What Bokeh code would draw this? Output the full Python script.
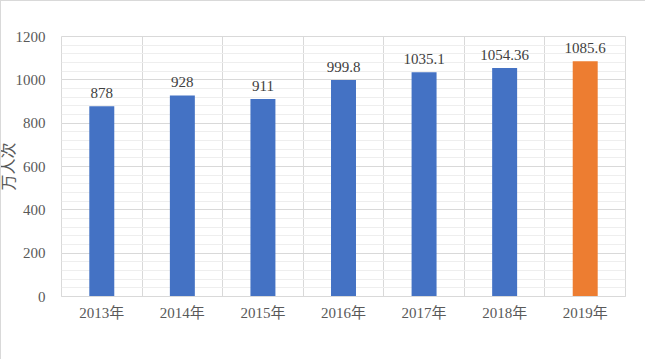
from bokeh.plotting import figure
from bokeh.models import ColumnDataSource, FixedTicker, SingleIntervalTicker, Range1d, LabelSet, Title
from bokeh.embed import file_html
from bokeh.resources import INLINE

years = ["2013年", "2014年", "2015年", "2016年", "2017年", "2018年", "2019年"]
values = [878, 928, 911, 999.8, 1035.1, 1054.36, 1085.6]
labels = ["878", "928", "911", "999.8", "1035.1", "1054.36", "1085.6"]
colors = ["#4472C4"] * 6 + ["#ED7D31"]
y_title = "万人次"

xs = [i + 0.5 for i in range(len(years))]
src = ColumnDataSource(dict(x=xs, top=values, lab=labels, color=colors))

FONT = "'Liberation Serif', 'Times New Roman', 'Noto Sans CJK SC'"

p = figure(width=645, height=359, output_backend="svg", toolbar_location=None,
           x_range=Range1d(0, len(years)), y_range=Range1d(0, 1200),
           min_border_left=60, min_border_right=21, min_border_top=35, min_border_bottom=64)
p.outline_line_color = "#d9d9d9"
p.styles = {"border-top": "1px solid #d9d9d9", "border-left": "1px solid #d9d9d9"}

p.vbar(x="x", top="top", width=0.31, color="color", source=src, line_color=None)
p.add_layout(LabelSet(x="x", y="top", text="lab", source=src, text_align="center",
                      text_baseline="bottom", y_offset=8, text_font=FONT,
                      text_font_size="15px", text_color="#404040"))

# y axis
p.yaxis.ticker = SingleIntervalTicker(interval=200, num_minor_ticks=5)
p.yaxis.axis_line_color = None
p.yaxis.major_tick_line_color = None
p.yaxis.minor_tick_line_color = None
p.yaxis.major_label_text_font = FONT
p.yaxis.major_label_text_font_size = "15px"
p.yaxis.major_label_text_color = "#595959"
p.yaxis.major_label_standoff = 10

p.add_layout(Title(text=y_title, align="center", offset=-17, standoff=-8,
                   text_font=FONT, text_font_size="16px", text_font_style="normal",
                   text_color="#595959"), "left")

p.ygrid.grid_line_color = "#d9d9d9"
p.ygrid.minor_grid_line_color = "#eeeeee"

# x axis
p.xaxis.ticker = FixedTicker(ticks=xs)
p.xaxis.major_label_overrides = {x: y for x, y in zip(xs, years)}
p.xaxis.axis_line_color = "#d9d9d9"
p.xaxis.major_tick_line_color = None
p.xaxis.minor_tick_line_color = None
p.xaxis.major_label_text_font = FONT
p.xaxis.major_label_text_font_size = "15px"
p.xaxis.major_label_text_color = "#595959"
p.xaxis.major_label_standoff = 2

p.xgrid.ticker = FixedTicker(ticks=list(range(len(years) + 1)))
p.xgrid.grid_line_color = "#d9d9d9"

open("out.html", "w").write(file_html(p, INLINE))
